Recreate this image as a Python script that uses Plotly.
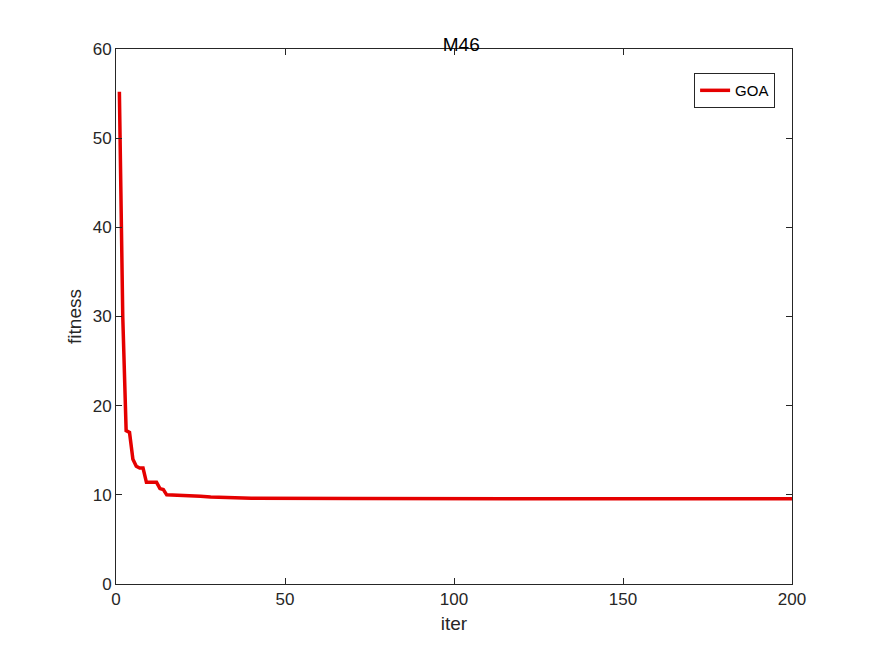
import plotly.graph_objects as go

iters = [1, 2, 3, 4, 5, 6, 7, 8, 9, 12, 13, 14, 15, 22, 25, 28, 35, 40, 70, 200]
fitness = [55.2, 30.0, 17.2, 17.0, 14.0, 13.2, 13.0, 13.0, 11.4, 11.4, 10.7, 10.6, 10.0, 9.95, 9.85, 9.75, 9.7, 9.62, 9.58, 9.55]

fig = go.Figure()
fig.add_trace(go.Scatter(x=iters, y=fitness, mode="lines", name="GOA",
                         line=dict(color="#e50000", width=3.5)))
ax = dict(showline=True, linecolor="#262626", linewidth=1, mirror="ticks", ticks="inside",
          ticklen=6, tickcolor="#262626", showgrid=False, zeroline=False, automargin=False,
          tickfont=dict(size=17, color="#262626"), title_font=dict(size=19, color="#262626"))
fig.update_xaxes(range=[0, 200], dtick=50, title_text="iter", title_standoff=8, **ax)
fig.update_yaxes(range=[0, 60], dtick=10, title_text="fitness", title_standoff=6, **ax)
fig.update_layout(
    width=875, height=656, plot_bgcolor="white", paper_bgcolor="white",
    margin=dict(l=108, r=91, t=41, b=80),
    font=dict(family="Liberation Sans, Arial", color="#262626"),
    title=dict(text="M46", x=0.518, xanchor="center", y=0.955, font=dict(size=19, color="black")),
    showlegend=True,
    legend=dict(x=0.975, y=0.955, xanchor="right", yanchor="top", bgcolor="white",
                bordercolor="#262626", borderwidth=1, font=dict(size=15, color="black")),
)
fig.write_html("out.html")
